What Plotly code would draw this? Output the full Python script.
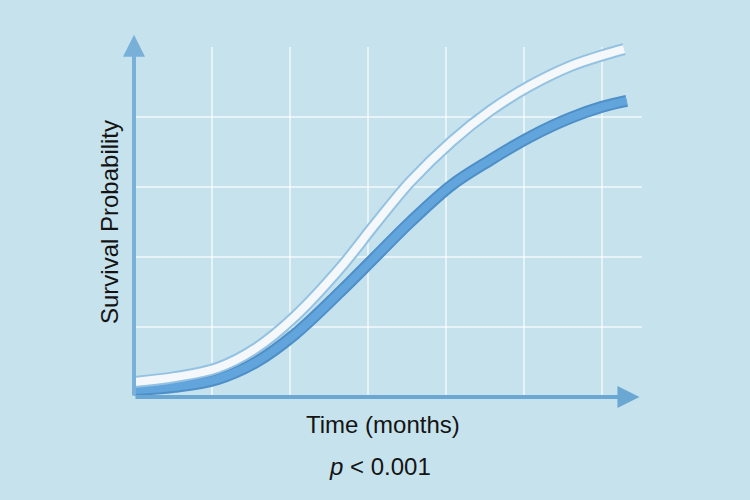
import plotly.graph_objects as go

# ---- data ----
months_a = [0, 6.3, 12.8, 18.8, 24.8, 31.7, 37.1, 42.5, 48.9, 54.8, 60.9, 67.1, 72.0, 75.4]
surv_a = [0.043, 0.057, 0.083, 0.140, 0.231, 0.368, 0.494, 0.615, 0.731, 0.818, 0.889, 0.945, 0.976, 0.994]

months_b = [0, 6.3, 12.8, 18.8, 24.8, 31.7, 37.1, 42.5, 48.9, 54.8, 60.9, 67.1, 72.0, 75.8]
surv_b = [0.020, 0.029, 0.051, 0.100, 0.180, 0.300, 0.400, 0.500, 0.606, 0.677, 0.743, 0.797, 0.829, 0.846]

grid_months = [12, 24, 36, 48, 60, 72]
grid_surv = [0.2, 0.4, 0.6, 0.8]

x_label = "Time (months)"
y_label = "Survival Probability"
p_label = "<i>p</i> < 0.001"

BG = "#c6e2ed"
AXIS = "#6aa7d2"
GRID = "rgba(255,255,255,0.6)"
FONT = "Liberation Sans, Arial, sans-serif"

fig = go.Figure()

# blue curve (shadow + body)
fig.add_trace(go.Scatter(x=months_b, y=surv_b, mode="lines",
                         line=dict(color="#4f8fc8", width=12, shape="spline", smoothing=1.0),
                         hoverinfo="skip", showlegend=False))
fig.add_trace(go.Scatter(x=months_b, y=surv_b, mode="lines",
                         line=dict(color="#62a5dc", width=8, shape="spline", smoothing=1.0),
                         showlegend=False))
# white curve (shadow + body)
fig.add_trace(go.Scatter(x=months_a, y=surv_a, mode="lines",
                         line=dict(color="#94c2e2", width=12, shape="spline", smoothing=1.0),
                         hoverinfo="skip", showlegend=False))
fig.add_trace(go.Scatter(x=months_a, y=surv_a, mode="lines",
                         line=dict(color="#f4f8fa", width=8, shape="spline", smoothing=1.0),
                         showlegend=False))

x_max = 78.15
y_max = 1.04

# vertical grid lines only up to survival 1.0
for gm in grid_months:
    fig.add_shape(type="line", xref="x", yref="y", x0=gm, x1=gm, y0=0, y1=1.0,
                  line=dict(color=GRID, width=2), layer="below")

# axis arrows
fig.add_annotation(x=x_max * 0.995, y=0, ax=0, ay=0, xref="x", yref="y", axref="x", ayref="y",
                   text="", showarrow=True, arrowhead=2, arrowsize=1.1, arrowwidth=4,
                   arrowcolor=AXIS, standoff=0, startstandoff=0)
fig.add_annotation(x=0, y=y_max * 0.995, ax=0, ay=0, xref="x", yref="y", axref="x", ayref="y",
                   text="", showarrow=True, arrowhead=2, arrowsize=1.1, arrowwidth=4,
                   arrowcolor="#78b0d8", standoff=0, startstandoff=0)

# labels
fig.add_annotation(text=x_label, xref="paper", yref="paper", x=0.490, y=-0.0742,
                   xanchor="center", yanchor="middle", showarrow=False,
                   font=dict(family=FONT, size=24, color="#141414"))
fig.add_annotation(text=p_label, xref="paper", yref="paper", x=0.484, y=-0.1896,
                   xanchor="center", yanchor="middle", showarrow=False,
                   font=dict(family=FONT, size=24, color="#141414"))
fig.add_annotation(text=y_label, xref="paper", yref="paper", x=-0.047, y=0.481,
                   xanchor="center", yanchor="middle", showarrow=False, textangle=-90,
                   font=dict(family=FONT, size=24, color="#141414"))

fig.update_layout(
    width=750, height=500,
    margin=dict(l=134, r=108, t=33, b=103),
    paper_bgcolor=BG, plot_bgcolor=BG,
    showlegend=False,
    xaxis=dict(range=[0, x_max], showgrid=False, zeroline=False, showline=False,
               showticklabels=False, ticks=""),
    yaxis=dict(range=[0, y_max], tickvals=grid_surv, showgrid=True,
               gridcolor=GRID, gridwidth=2,
               zeroline=False, showline=False, showticklabels=False, ticks=""),
)

fig.write_html("out.html")
